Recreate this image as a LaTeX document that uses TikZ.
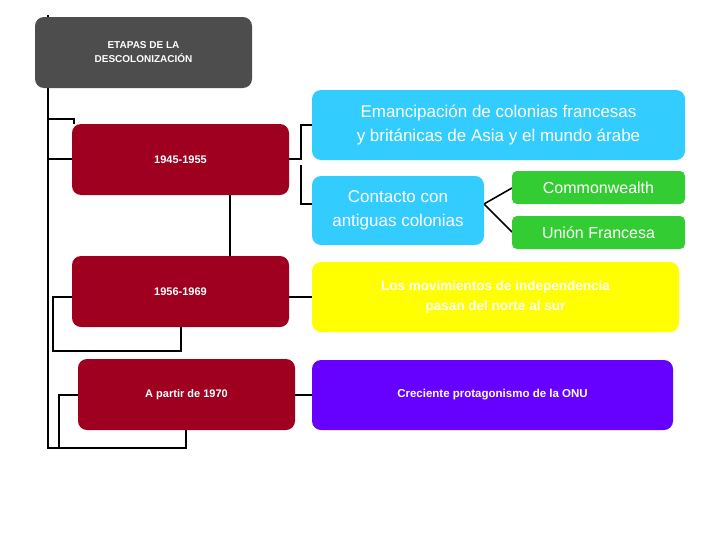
\documentclass[tikz,border=0pt]{standalone}
\usepackage{fontspec}
\setmainfont{Liberation Sans}
\begin{document}
\begin{tikzpicture}[x=1pt,y=-1pt,
 box/.style={rounded corners=9pt,text=white,align=center,inner sep=0pt},
 ln/.style={line width=1.6pt,black}]
\useasboundingbox[fill=white] (0,0) rectangle (728,546);
\definecolor{dred}{HTML}{A00020}
\definecolor{cy}{HTML}{33CCFF}
\definecolor{gr}{HTML}{33CC33}
\definecolor{pu}{HTML}{6600FF}
\definecolor{dg}{HTML}{4D4D4D}
\definecolor{ye}{HTML}{FFFF00}
% lines first
\coordinate (top) at (48,15);
\coordinate (bot) at (48,448);
\draw[ln] (top) -- (bot) -- (186,448) -- (186,430);
\draw[ln] (48,119) -- (74,119) -- (74,124);
\draw[ln] (48,159) -- (72,159);
\draw[ln] (230,195) -- (230,256);
\draw[ln] (72,297) -- (53,297) -- (53,351) -- (181,351) -- (181,327);
\draw[ln] (78,395) -- (59,395) -- (59,448);
\draw[ln] (289,159) -- (301,159) -- (301,125) -- (312,125);
\draw[ln] (301,165) -- (301,204) -- (312,204);
\draw[ln] (289,297) -- (312,297);
\draw[ln] (295,395) -- (312,395);
\draw[ln] (484,204) -- (512,188);
\draw[ln] (484,204) -- (512,232);
\node[box,fill=dg,minimum width=217pt,minimum height=71pt,font=\bfseries\fontsize{10}{14}\selectfont] (t) at (143.5,52.5) {ETAPAS DE LA\\DESCOLONIZACIÓN};
\node[box,fill=dred,minimum width=217pt,minimum height=71pt,font=\bfseries\fontsize{11}{14}\selectfont] (b1) at (180.5,159.5) {1945-1955};
\node[box,fill=dred,minimum width=217pt,minimum height=71pt,font=\bfseries\fontsize{11}{14}\selectfont] (b2) at (180.5,291.5) {1956-1969};
\node[box,fill=dred,minimum width=217pt,minimum height=71pt,font=\bfseries\fontsize{11}{14}\selectfont] (b3) at (186.5,394.5) {A partir de 1970};
\node[box,fill=cy,minimum width=373pt,minimum height=70pt,font=\fontsize{17}{24}\selectfont] (c1) at (498.5,125) {Emancipación de colonias francesas\\ y británicas de Asia y el mundo árabe};
\node[box,fill=cy,minimum width=172pt,minimum height=69pt,font=\fontsize{17}{24}\selectfont] (c2) at (398,210.5) {Contacto con\\antiguas colonias};
\node[box,fill=gr,rounded corners=5pt,minimum width=173pt,minimum height=33pt,font=\fontsize{16}{20}\selectfont] (g1) at (598.5,187.5) {Commonwealth};
\node[box,fill=gr,rounded corners=5pt,minimum width=173pt,minimum height=33pt,font=\fontsize{16}{20}\selectfont] (g2) at (598.5,232.5) {Unión Francesa};
\node[box,fill=ye,minimum width=367pt,minimum height=70pt,font=\bfseries\fontsize{13.5}{20}\selectfont] (y) at (495.5,297) {Los movimientos de independencia\\pasan del norte al sur};
\node[box,fill=pu,minimum width=361pt,minimum height=70pt,font=\bfseries\fontsize{11.5}{14}\selectfont] (p) at (492.5,395) {Creciente protagonismo de la ONU};
\end{tikzpicture}
\end{document}
